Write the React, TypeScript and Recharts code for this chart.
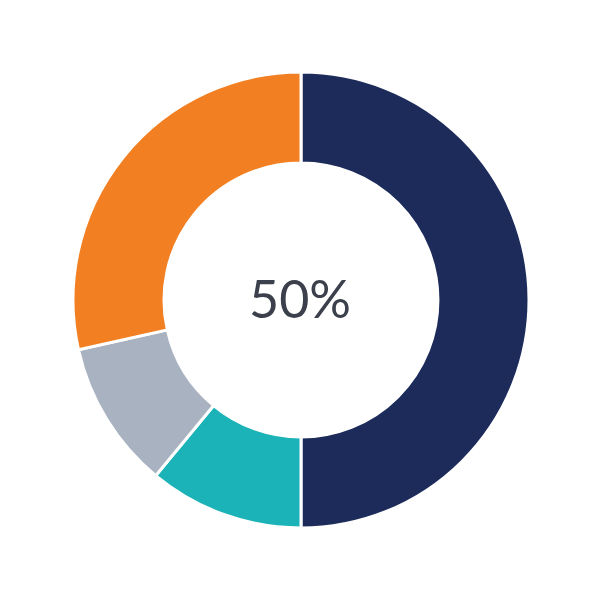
import { PieChart, Pie, Cell, Label } from "recharts";

const segments = ["Navy", "Teal", "Gray", "Orange"];
const values = [50, 11, 10.5, 28.5];
const colors = ["#1c2b5a", "#1bb3b7", "#a8b2c0", "#f27f22"];
const centerLabel = "50%";

const data = segments.map((name, i) => ({ name, value: values[i] }));

export default function App() {
  return (
    <div style={{ position: "fixed", left: 0, top: 0, width: 600, height: 600, background: "#fff" }}>
      <PieChart width={600} height={600} margin={{ top: 0, right: 0, bottom: 0, left: 0 }}>
        <Pie
          data={data}
          dataKey="value"
          nameKey="name"
          cx={301}
          cy={300}
          innerRadius={137}
          outerRadius={228}
          startAngle={90}
          endAngle={-270}
          stroke="#ffffff"
          strokeWidth={3}
          isAnimationActive={false}
        >
          {data.map((d, i) => (
            <Cell key={d.name} fill={colors[i]} />
          ))}
          <Label
            value={centerLabel}
            position="center"
            fill="#3b404c"
            style={{ fontFamily: "Lato", fontSize: 52 }}
          />
        </Pie>
      </PieChart>
    </div>
  );
}
